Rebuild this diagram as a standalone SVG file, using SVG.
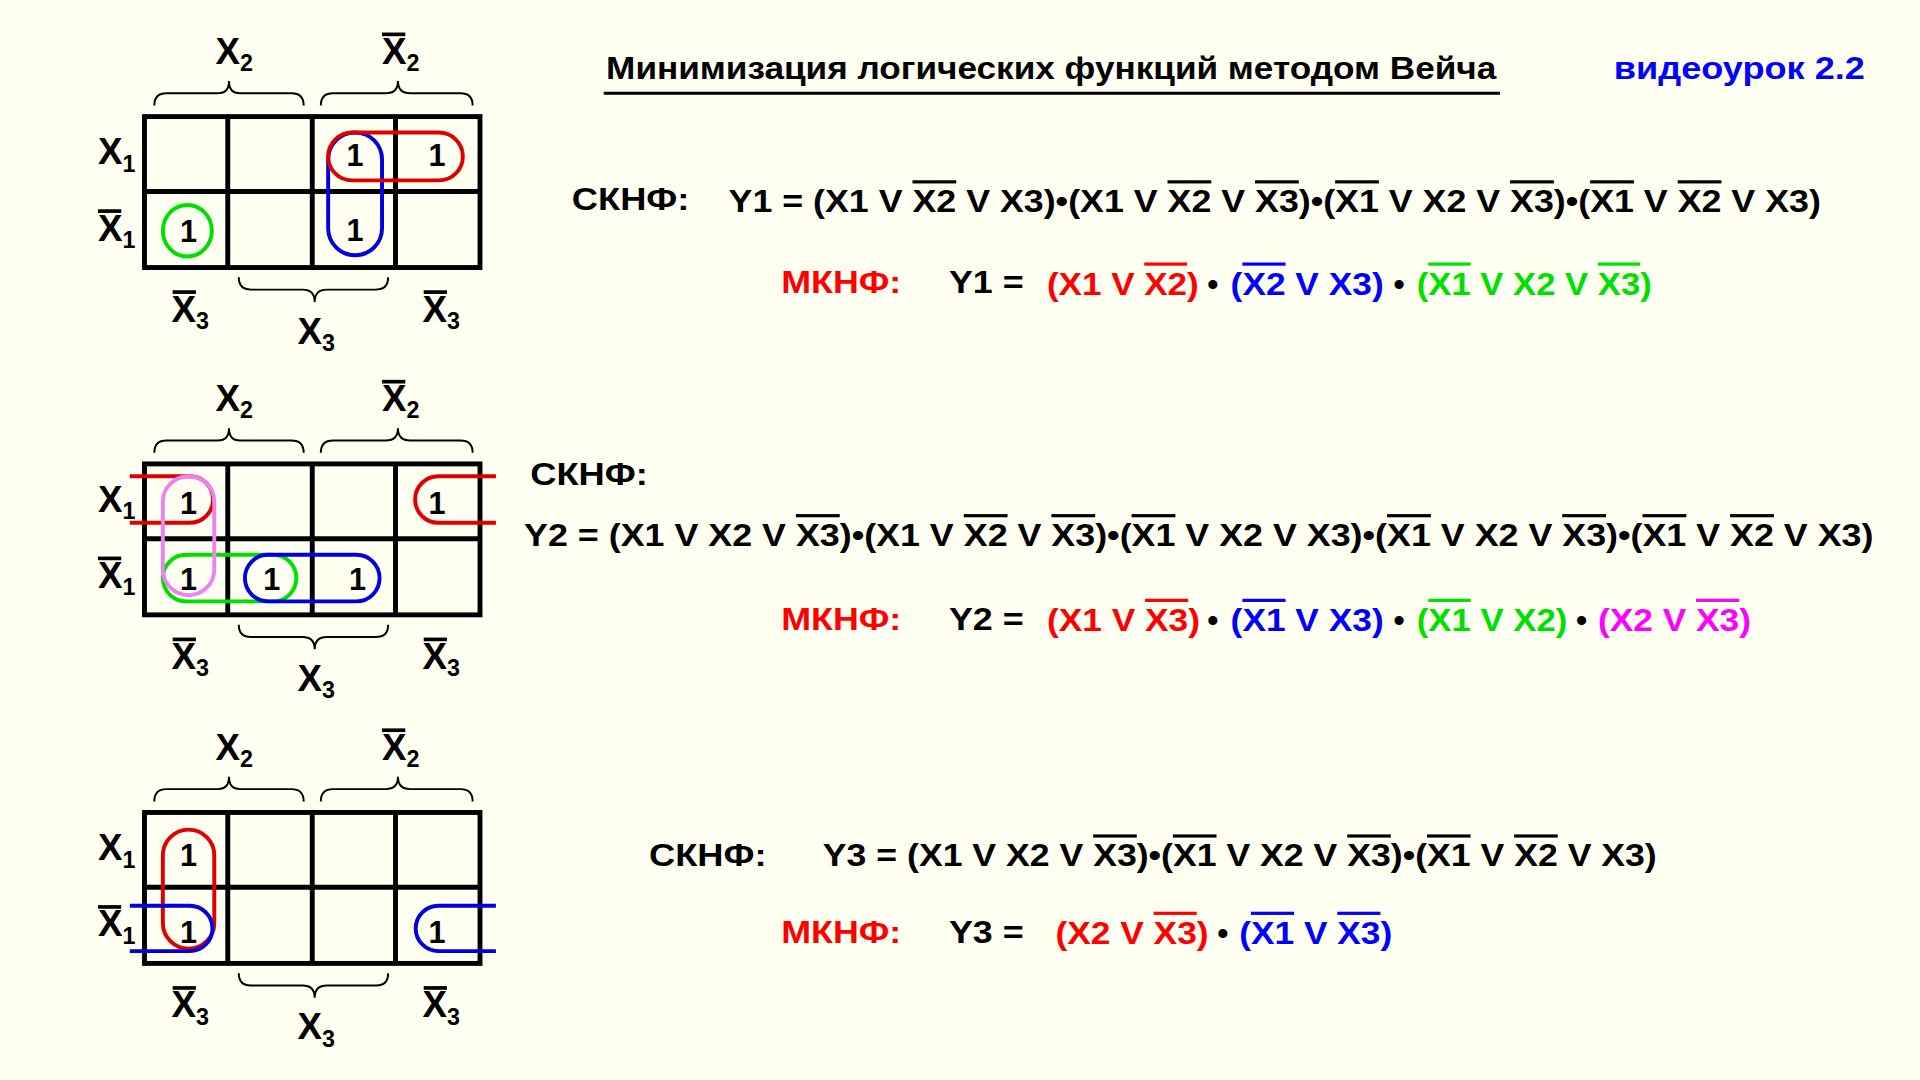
<svg xmlns="http://www.w3.org/2000/svg" width="1920" height="1080" viewBox="0 0 1920 1080">
<style>
.t{font-family:"Liberation Sans",Arial,sans-serif;font-weight:bold;font-size:26px}
.o{text-decoration:overline}
.lab{font-family:"Liberation Sans",Arial,sans-serif;font-weight:bold;font-size:30px;fill:#000}
.sub{font-size:19px}
.one{font-family:"Liberation Sans",Arial,sans-serif;font-weight:bold;font-size:25px;text-anchor:middle}
.grid{fill:none;stroke:#000;stroke-width:4}
.br{fill:none;stroke:#000;stroke-width:1.6}
.bar{stroke:#000;stroke-width:3}
.lp{fill:none;stroke-width:3.2}
</style>
<rect width="1920" height="1080" fill="#FFFFF2"/>
<g transform="scale(1.22449,1.22727)">
<defs>
<g id="map">
<rect class="grid" x="118" y="95" width="274" height="123"/>
<path class="grid" d="M186,95V218M255,95V218M323,95V218M118,156H392"/>
<path class="br" d="M126,86Q126,76 136,76H178Q187,76 187,66Q187,76 196,76H238Q248,76 248,86"/>
<path class="br" d="M262,86Q262,76 272,76H315Q325,76 325,66Q325,76 335,76H376Q386,76 386,86"/>
<path class="br" d="M195,226Q195,236 205,236H247Q257,236 257,246Q257,236 267,236H307Q317,236 317,226"/>
<text class="lab" x="176" y="52">X<tspan class="sub" dy="6">2</tspan></text>
<text class="lab" x="312" y="52">X<tspan class="sub" dy="6">2</tspan></text>
<line class="bar" x1="312" y1="28" x2="331" y2="28"/>
<text class="lab" x="80" y="134">X<tspan class="sub" dy="6">1</tspan></text>
<text class="lab" x="80" y="196">X<tspan class="sub" dy="6">1</tspan></text>
<line class="bar" x1="80" y1="172" x2="99" y2="172"/>
<text class="lab" x="140" y="262">X<tspan class="sub" dy="6">3</tspan></text>
<line class="bar" x1="141" y1="238" x2="160" y2="238"/>
<text class="lab" x="243" y="280">X<tspan class="sub" dy="6">3</tspan></text>
<text class="lab" x="345" y="262">X<tspan class="sub" dy="6">3</tspan></text>
<line class="bar" x1="346" y1="238" x2="365" y2="238"/>
</g>
</defs>
<g id="map1">
<use href="#map"/>
<rect class="lp" stroke="#0000E0" x="268" y="108" width="44" height="100" rx="22"/>
<rect class="lp" stroke="#E00000" x="268" y="108" width="110" height="39" rx="19.5"/>
<ellipse class="lp" stroke="#00E000" cx="153" cy="188" rx="20" ry="21"/>
<text class="one" x="290" y="135">1</text><text class="one" x="357" y="135">1</text>
<text class="one" x="290" y="196">1</text><text class="one" x="154" y="197">1</text>
</g>
<g id="map2" transform="translate(0,283)">
<use href="#map"/>
<path class="lp" stroke="#E00000" d="M106,105H155A19,19 0 0 1 155,143H106"/>
<path class="lp" stroke="#E00000" d="M405,105H358A19,19 0 0 0 358,143H405"/>
<rect class="lp" stroke="#00E000" x="133" y="169" width="109" height="38" rx="19"/>
<rect class="lp" stroke="#0000E0" x="200" y="169" width="110" height="38" rx="19"/>
<rect class="lp" stroke="#EE82EE" x="133" y="105" width="42" height="97" rx="21"/>
<text class="one" x="154" y="136">1</text><text class="one" x="357" y="136">1</text>
<text class="one" x="154" y="198">1</text><text class="one" x="222" y="198">1</text><text class="one" x="292" y="198">1</text>
</g>
<g id="map3" transform="translate(0,567)">
<use href="#map"/>
<rect class="lp" stroke="#E00000" x="133" y="109" width="42" height="97" rx="21"/>
<path class="lp" stroke="#0000E0" d="M106,171H155A18.5,18.5 0 0 1 155,208H106"/>
<path class="lp" stroke="#0000E0" d="M405,171H358A18.5,18.5 0 0 0 358,208H405"/>
<text class="one" x="154" y="139">1</text><text class="one" x="154" y="201">1</text><text class="one" x="357" y="201">1</text>
</g>
<g id="title">
<text class="t" x="495" y="64" font-size="23" textLength="727" lengthAdjust="spacingAndGlyphs">Минимизация логических функций методом Вейча</text>
<line x1="493" y1="76" x2="1225" y2="76" stroke="#000" stroke-width="2.5"/>
<text class="t" x="1318" y="64" font-size="23" fill="#0000FF" textLength="205" lengthAdjust="spacingAndGlyphs">видеоурок 2.2</text>
</g>
<g id="eq1">
<text class="t" x="467" y="171" textLength="96" lengthAdjust="spacingAndGlyphs">СКНФ:</text>
<text class="t" x="595" y="173" textLength="892" lengthAdjust="spacingAndGlyphs">Y1 = (X1 V <tspan class="o">X2</tspan> V X3)•(X1 V <tspan class="o">X2</tspan> V <tspan class="o">X3</tspan>)•(<tspan class="o">X1</tspan> V X2 V <tspan class="o">X3</tspan>)•(<tspan class="o">X1</tspan> V <tspan class="o">X2</tspan> V X3)</text>
<text class="t" x="638" y="239" fill="#FF0000" textLength="98" lengthAdjust="spacingAndGlyphs">МКНФ:</text>
<text class="t" x="775" y="239" textLength="61" lengthAdjust="spacingAndGlyphs">Y1 =</text>
<text class="t" x="855" y="240" fill="#FF0000" textLength="124" lengthAdjust="spacingAndGlyphs">(X1 V <tspan class="o">X2</tspan>)</text>
<text class="t" x="986" y="240">•</text>
<text class="t" x="1005" y="240" fill="#0000FF" textLength="125" lengthAdjust="spacingAndGlyphs">(<tspan class="o">X2</tspan> V X3)</text>
<text class="t" x="1138" y="240">•</text>
<text class="t" x="1157" y="240" fill="#00E000" textLength="192" lengthAdjust="spacingAndGlyphs">(<tspan class="o">X1</tspan> V X2 V <tspan class="o">X3</tspan>)</text>
</g>
<g id="eq2">
<text class="t" x="433" y="395" textLength="96" lengthAdjust="spacingAndGlyphs">СКНФ:</text>
<text class="t" x="428" y="445" textLength="1102" lengthAdjust="spacingAndGlyphs">Y2 = (X1 V X2 V <tspan class="o">X3</tspan>)•(X1 V <tspan class="o">X2</tspan> V <tspan class="o">X3</tspan>)•(<tspan class="o">X1</tspan> V X2 V X3)•(<tspan class="o">X1</tspan> V X2 V <tspan class="o">X3</tspan>)•(<tspan class="o">X1</tspan> V <tspan class="o">X2</tspan> V X3)</text>
<text class="t" x="638" y="513" fill="#FF0000" textLength="98" lengthAdjust="spacingAndGlyphs">МКНФ:</text>
<text class="t" x="775" y="513" textLength="61" lengthAdjust="spacingAndGlyphs">Y2 =</text>
<text class="t" x="855" y="514" fill="#FF0000" textLength="125" lengthAdjust="spacingAndGlyphs">(X1 V <tspan class="o">X3</tspan>)</text>
<text class="t" x="986" y="514">•</text>
<text class="t" x="1005" y="514" fill="#0000FF" textLength="125" lengthAdjust="spacingAndGlyphs">(<tspan class="o">X1</tspan> V X3)</text>
<text class="t" x="1138" y="514">•</text>
<text class="t" x="1157" y="514" fill="#00E000" textLength="123" lengthAdjust="spacingAndGlyphs">(<tspan class="o">X1</tspan> V X2)</text>
<text class="t" x="1287" y="514">•</text>
<text class="t" x="1305" y="514" fill="#FF00FF" textLength="125" lengthAdjust="spacingAndGlyphs">(X2 V <tspan class="o" style="text-decoration-color:#EE82EE">X3</tspan>)</text>
</g>
<g id="eq3">
<text class="t" x="530" y="706" textLength="96" lengthAdjust="spacingAndGlyphs">СКНФ:</text>
<text class="t" x="672" y="706" textLength="681" lengthAdjust="spacingAndGlyphs">Y3 = (X1 V X2 V <tspan class="o">X3</tspan>)•(<tspan class="o">X1</tspan> V X2 V <tspan class="o">X3</tspan>)•(<tspan class="o">X1</tspan> V <tspan class="o">X2</tspan> V X3)</text>
<text class="t" x="638" y="768" fill="#FF0000" textLength="98" lengthAdjust="spacingAndGlyphs">МКНФ:</text>
<text class="t" x="775" y="768" textLength="61" lengthAdjust="spacingAndGlyphs">Y3 =</text>
<text class="t" x="862" y="769" fill="#FF0000" textLength="125" lengthAdjust="spacingAndGlyphs">(X2 V <tspan class="o">X3</tspan>)</text>
<text class="t" x="994" y="769">•</text>
<text class="t" x="1012" y="769" fill="#0000FF" textLength="125" lengthAdjust="spacingAndGlyphs">(<tspan class="o">X1</tspan> V <tspan class="o">X3</tspan>)</text>
</g>
</g>
</svg>
